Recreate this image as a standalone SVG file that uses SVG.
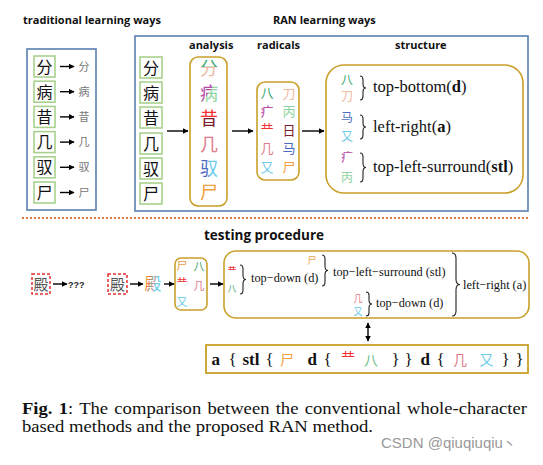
<svg xmlns="http://www.w3.org/2000/svg" width="543" height="465" viewBox="0 0 543 465">
<style>
.title{font-family:"Open Sans","Liberation Sans",sans-serif;font-weight:bold;font-size:11px;fill:#111}
.cj{font-family:"Noto Sans CJK SC",sans-serif;text-anchor:middle}
.bx{fill:#fff;stroke:#a9d18e;stroke-width:1.6}
.blue{fill:none;stroke:#5a7fb0;stroke-width:1.6}
.gold{fill:none;stroke:#c9a02a;stroke-width:1.6}
.ln{stroke:#000;stroke-width:1.4;fill:none}
.br{stroke:#222;stroke-width:1.1;fill:none}
.sr{font-family:"Liberation Serif",serif;fill:#111}
.sb{font-family:"Liberation Serif",serif;font-weight:bold;fill:#111}
</style>
<defs>
<marker id="ah" viewBox="0 0 10 10" refX="9" refY="5" markerWidth="4" markerHeight="4" orient="auto-start-reverse"><path d="M0,0 L10,5 L0,10 z" fill="#000"/></marker>
<linearGradient id="gFen" x1="0" y1="0" x2="0" y2="1"><stop offset="0.5" stop-color="#3aa66a"/><stop offset="0.5" stop-color="#f2b8a0"/></linearGradient>
<linearGradient id="gBing" x1="0" y1="0" x2="1" y2="1"><stop offset="0.5" stop-color="#b54ca8"/><stop offset="0.5" stop-color="#8fd4a0"/></linearGradient>
<linearGradient id="gXi" x1="0" y1="0" x2="0" y2="1"><stop offset="0.5" stop-color="#f03030"/><stop offset="0.5" stop-color="#7a1f2a"/></linearGradient>
<linearGradient id="gYu" x1="0" y1="0" x2="1" y2="0"><stop offset="0.5" stop-color="#4a6ac0"/><stop offset="0.5" stop-color="#6ccbe8"/></linearGradient>
<linearGradient id="gDian" x1="0" y1="0" x2="1" y2="0.3"><stop offset="0.25" stop-color="#f0a040"/><stop offset="0.4" stop-color="#f06050"/><stop offset="0.5" stop-color="#6cc08a"/><stop offset="0.6" stop-color="#e07a8a"/><stop offset="0.75" stop-color="#6ccbe8"/></linearGradient>
</defs>

<!-- Titles -->
<text class="title" x="23" y="24">traditional learning ways</text>
<text class="title" x="273" y="24">RAN learning ways</text>

<!-- traditional box -->
<g id="traditional">
<rect class="blue" x="27" y="49" width="69" height="161"/>
<g class="cj" font-size="16" fill="#111">
<rect class="bx" x="34" y="56" width="21" height="21"/><text x="44.5" y="72.5">分</text>
<rect class="bx" x="34" y="81.2" width="21" height="21"/><text x="44.5" y="97.7">病</text>
<rect class="bx" x="34" y="106.4" width="21" height="21"/><text x="44.5" y="122.9">昔</text>
<rect class="bx" x="34" y="131.6" width="21" height="21"/><text x="44.5" y="148.1">几</text>
<rect class="bx" x="34" y="156.8" width="21" height="21"/><text x="44.5" y="173.3">驭</text>
<rect class="bx" x="34" y="182" width="21" height="21"/><text x="44.5" y="198.5">尸</text>
</g>
<g class="cj" font-size="11" fill="#777">
<text x="84" y="70.5">分</text><text x="84" y="95.7">病</text><text x="84" y="120.9">昔</text>
<text x="84" y="146.1">几</text><text x="84" y="171.3">驭</text><text x="84" y="196.5">尸</text>
</g>
</g>

<!-- RAN box -->
<g id="ran">
<rect class="blue" x="135" y="36" width="393" height="175"/>
<text class="title" x="189" y="49">analysis</text>
<text class="title" x="257" y="49">radicals</text>
<text class="title" x="395" y="49">structure</text>
</g>

<g id="ran-inputs" class="cj" font-size="16" fill="#111">
<rect class="bx" x="140" y="57" width="22" height="21"/><text x="151" y="73.5">分</text>
<rect class="bx" x="140" y="82" width="22" height="21"/><text x="151" y="98.5">病</text>
<rect class="bx" x="140" y="107" width="22" height="21"/><text x="151" y="123.5">昔</text>
<rect class="bx" x="140" y="133" width="22" height="21"/><text x="151" y="149.5">几</text>
<rect class="bx" x="140" y="158" width="22" height="21"/><text x="151" y="174.5">驭</text>
<rect class="bx" x="140" y="183" width="22" height="21"/><text x="151" y="199.5">尸</text>
</g>

<g id="analysis">
<rect class="gold" x="190" y="57" width="37" height="149" rx="8"/>
<g class="cj" font-size="18">
<text x="209" y="75" fill="url(#gFen)">分</text>
<text x="209" y="100" fill="url(#gBing)">病</text>
<text x="209" y="125" fill="url(#gXi)">昔</text>
<text x="209" y="151" fill="#e07a8a">几</text>
<text x="209" y="175" fill="url(#gYu)">驭</text>
<text x="209" y="199" fill="#f0a040">尸</text>
</g>
</g>

<g id="radicals">
<rect class="gold" x="257" y="82" width="42" height="98" rx="8"/>
<g class="cj" font-size="13">
<text x="267" y="98" fill="#3aa66a">八</text>
<text x="267" y="116" fill="#b54ca8">疒</text>
<text x="267" y="134" fill="#f03030">龷</text>
<text x="267" y="153" fill="#e07a8a">几</text>
<text x="267" y="172" fill="#6ccbe8">又</text>
<text x="289" y="98" fill="#f2b8a0">刀</text>
<text x="289" y="116" fill="#8fd4a0">丙</text>
<text x="289" y="135" fill="#7a1f2a">日</text>
<text x="289" y="153" fill="#4a6ac0">马</text>
<text x="289" y="172" fill="#f0a040">尸</text>
</g>
</g>

<g id="structure">
<rect class="gold" x="326" y="65" width="197" height="128" rx="18"/>
<g class="cj" font-size="12">
<text x="347" y="84.5" fill="#3aa66a">八</text>
<text x="347" y="100.5" fill="#f2b8a0">刀</text>
<text x="347" y="121.5" fill="#4a6ac0">马</text>
<text x="347" y="140.5" fill="#6ccbe8">又</text>
<text x="347" y="161.5" fill="#b54ca8">疒</text>
<text x="347" y="181.5" fill="#8fd4a0">丙</text>
</g>
<g class="sr" font-size="16.5">
<text x="373" y="92">top-bottom(<tspan font-weight="bold">d</tspan>)</text>
<text x="373" y="132">left-right(<tspan font-weight="bold">a</tspan>)</text>
<text x="373" y="172">top-left-surround(<tspan font-weight="bold">stl</tspan>)</text>
</g>
</g>

<!-- separator -->
<line x1="22" y1="218" x2="528" y2="218" stroke="#e07b39" stroke-width="2" stroke-dasharray="2 2"/>

<text class="title" x="204" y="240" style="font-size:13.5px">testing procedure</text>

<g id="test-old">
<rect x="32" y="274" width="18" height="20" fill="none" stroke="#e83030" stroke-width="1.5" stroke-dasharray="3 2"/>
<text class="cj" x="41" y="290" font-size="15" fill="#555">殿</text>
<text x="68" y="288" font-family="Liberation Sans,sans-serif" font-size="9" font-weight="bold" fill="#222">???</text>
</g>

<g id="test-input">
<rect x="108" y="274" width="19" height="20" fill="none" stroke="#e83030" stroke-width="1.5" stroke-dasharray="3 2"/>
<text class="cj" x="117.5" y="290" font-size="15" fill="#555">殿</text>
</g>
<g id="test-analysis">
<text class="cj" x="153" y="290" font-size="17" fill="url(#gDian)">殿</text>
</g>
<g id="test-radicals">
<rect class="gold" x="175" y="258" width="32" height="52" rx="6"/>
<g class="cj" font-size="11">
<text x="182" y="270" fill="#f0a040">尸</text>
<text x="182" y="287" fill="#f03030">龷</text>
<text x="182" y="306" fill="#6ccbe8">又</text>
<text x="199" y="271" fill="#3aa66a">八</text>
<text x="199" y="290" fill="#e07a8a">几</text>
</g>
</g>

<g id="test-structure">
<rect class="gold" x="224" y="251" width="305" height="67" rx="12"/>
<g class="cj" font-size="9">
<text x="232" y="273.5" fill="#f03030">龷</text>
<text x="232" y="291.5" fill="#3aa66a">八</text>
<text x="312" y="263.5" fill="#f0a040">尸</text>
<text x="358" y="301.5" fill="#e07a8a">几</text>
<text x="358" y="314.5" fill="#6ccbe8">又</text>
</g>
<g class="sr" font-size="12.3">
<text x="251" y="282">top−down (d)</text>
<text x="333" y="276">top−left−surround (stl)</text>
<text x="376" y="307">top−down (d)</text>
<text x="463" y="289">left−right (a)</text>
</g>
</g>

<g id="connectors">
<g class="ln" marker-end="url(#ah)">
<line x1="60" y1="66.5" x2="74" y2="66.5"/>
<line x1="60" y1="91.7" x2="74" y2="91.7"/>
<line x1="60" y1="116.9" x2="74" y2="116.9"/>
<line x1="60" y1="142.1" x2="74" y2="142.1"/>
<line x1="60" y1="167.3" x2="74" y2="167.3"/>
<line x1="60" y1="192.5" x2="74" y2="192.5"/>
<line x1="167" y1="131" x2="188" y2="131"/>
<line x1="232" y1="131" x2="253" y2="131"/>
<line x1="302" y1="131" x2="324" y2="131"/>
<line x1="53" y1="284" x2="67" y2="284"/>
<line x1="130" y1="284" x2="143" y2="284"/>
<line x1="164" y1="284" x2="174" y2="284"/>
<line x1="210" y1="284" x2="223" y2="284"/>
<line x1="368" y1="323" x2="368" y2="341" marker-start="url(#ah)"/>
</g>
<g class="br">
<path d="M360,76 Q363,76 363,80 L363,84 Q363,88 366,88 Q363,88 363,92 L363,96 Q363,100 360,100"/>
<path d="M360,115 Q363,115 363,119 L363,123 Q363,127 366,127 Q363,127 363,131 L363,135 Q363,139 360,139"/>
<path d="M360,153 Q363,153 363,157 L363,163 Q363,167.5 366,167.5 Q363,167.5 363,172 L363,178 Q363,182 360,182"/>
<path d="M240,265 Q243,265 243,269 L243,275 Q243,279.5 246,279.5 Q243,279.5 243,284 L243,290 Q243,294 240,294"/>
<path d="M322,255 Q325,255 325,259 L325,266 Q325,270.5 328,270.5 Q325,270.5 325,275 L325,282 Q325,286 322,286"/>
<path d="M366,292 Q369,292 369,295 L369,300 Q369,304 372,304 Q369,304 369,308 L369,313 Q369,316 366,316"/>
<path d="M452,253 Q456,253 456,258 L456,279 Q456,284.5 460,284.5 Q456,284.5 456,290 L456,311 Q456,316 452,316"/>
</g>
</g>

<g id="result">
<rect x="206" y="345" width="322" height="28" fill="none" stroke="#c9a02a" stroke-width="1.8"/>
<g font-size="17">
<text class="sb" x="211.5" y="365">a</text>
<text class="sr" x="228.5" y="365">{</text>
<text class="sb" x="242.5" y="365">stl</text>
<text class="sr" x="265.5" y="365">{</text>
<text class="cj" x="287" y="365" font-size="14" fill="#f0a040">尸</text>
<text class="sb" x="307.5" y="365">d</text>
<text class="sr" x="323.5" y="365">{</text>
<text class="cj" x="348" y="363" font-size="14" fill="#f03030">龷</text>
<text class="cj" x="371" y="365" font-size="14" fill="#6cc08a">八</text>
<text class="sr" x="391.5" y="365">}</text>
<text class="sr" x="404.5" y="365">}</text>
<text class="sb" x="420.5" y="365">d</text>
<text class="sr" x="436.5" y="365">{</text>
<text class="cj" x="460" y="365" font-size="14" fill="#e07a8a">几</text>
<text class="cj" x="486.5" y="365" font-size="14" fill="#6ccbe8">又</text>
<text class="sr" x="501.5" y="365">}</text>
<text class="sr" x="515.5" y="365">}</text>
</g>
</g>

<g id="caption" font-family="Liberation Serif,serif" font-size="16.2" fill="#111" transform="translate(22,0) scale(1.15,1)">
<text x="0" y="414" word-spacing="1.4"><tspan font-weight="bold">Fig. 1</tspan>: The comparison between the conventional whole-character</text>
<text x="0" y="432">based methods and the proposed RAN method.</text>
</g>
<text x="381" y="448" font-family="Liberation Sans,sans-serif" font-size="15" fill="#999">CSDN @qiuqiuqiu<tspan font-family="Noto Sans CJK SC,sans-serif" font-size="13">丶</tspan></text>
</svg>
